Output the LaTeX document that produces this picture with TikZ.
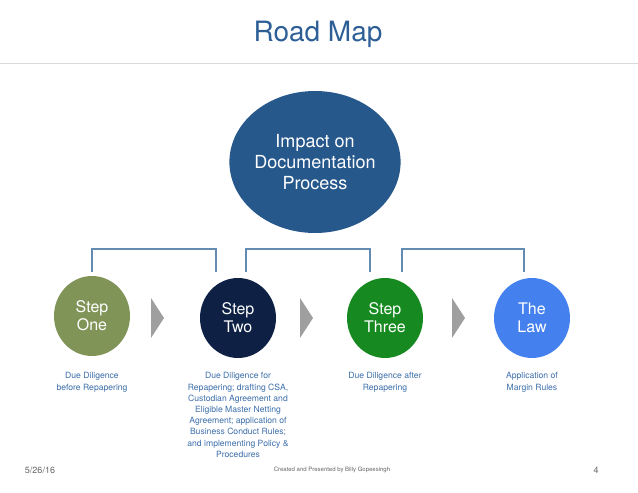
\documentclass[tikz,border=0pt]{standalone}
\usepackage{fontspec}
\setmainfont{TeX Gyre Heros}
\usetikzlibrary{shapes.geometric}
\definecolor{titleblue}{RGB}{45,95,150}
\definecolor{topc}{RGB}{38,88,140}
\definecolor{onec}{RGB}{128,148,88}
\definecolor{twoc}{RGB}{14,32,68}
\definecolor{threec}{RGB}{22,138,32}
\definecolor{lawc}{RGB}{68,128,238}
\definecolor{brk}{RGB}{100,140,178}
\definecolor{desc}{RGB}{60,110,170}
\begin{document}
\begin{tikzpicture}[x=1pt,y=-1pt,
  stepc/.style={ellipse,minimum width=76pt,minimum height=80pt,inner sep=0pt,text=white,font=\fontsize{16}{18}\selectfont,align=center},
  descr/.style={anchor=north,text=desc,font=\fontsize{8.6}{11.2}\selectfont,align=center},
  brkt/.style={draw=brk,line width=2.2pt},
  tri/.style={fill=gray!75}]
\useasboundingbox (0,0) rectangle (638,493);
\node[text=titleblue,font=\fontsize{28}{30}\selectfont] (title) at (318,34) {Road Map};
\draw[gray!30,line width=0.8pt] (0,63) -- (638,63);
\node[ellipse,fill=topc,minimum width=150pt,minimum height=142pt,inner sep=0pt,text=white,font=\fontsize{18}{21}\selectfont,align=center] (top) at (315,162) {Impact on\\Documentation\\Process};
\node[stepc,fill=onec] (s1) at (92,316) {Step\\One};
\node[stepc,fill=twoc] (s2) at (238,318) {Step\\Two};
\node[stepc,fill=threec] (s3) at (385,318) {Step\\Three};
\node[stepc,fill=lawc] (s4) at (532,318) {The\\Law};
\draw[brkt] (92,272) -- (92,249) -- (216,249) -- (216,272);
\draw[brkt] (246,272) -- (246,249) -- (370,249) -- (370,272);
\draw[brkt] (402,272) -- (402,249) -- (524,249) -- (524,272);
\fill[tri] (151,298) -- (164,318) -- (151,338) -- cycle;
\fill[tri] (300,298) -- (313,318) -- (300,338) -- cycle;
\fill[tri] (452,298) -- (465,318) -- (452,338) -- cycle;
\node[descr] (d1) at (92,369) {Due Diligence\\before Repapering};
\node[descr] (d2) at (238,369) {Due Diligence for\\Repapering; drafting CSA,\\Custodian Agreement and\\Eligible Master Netting\\Agreement; application of\\Business Conduct Rules;\\and implementing Policy \&\\Procedures};
\node[descr] (d3) at (385,369) {Due Diligence after\\Repapering};
\node[descr] (d4) at (532,369) {Application of\\Margin Rules};
\node[text=gray!80!black,font=\fontsize{9}{10}\selectfont] (date) at (40,470) {5/26/16};
\node[text=gray!80!black,font=\fontsize{6}{7}\selectfont] (foot) at (332,470) {Created and Presented by Billy Gopeesingh};
\node[text=gray!80!black,font=\fontsize{9}{10}\selectfont] (pg) at (596,470) {4};
\end{tikzpicture}
\end{document}
